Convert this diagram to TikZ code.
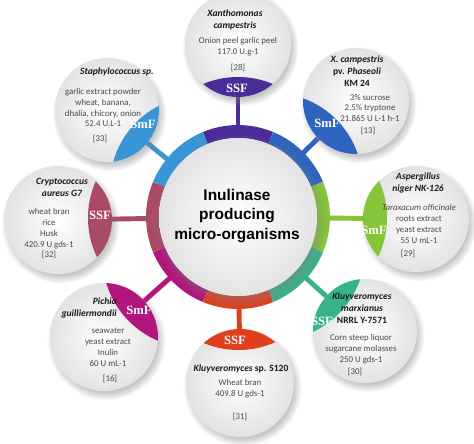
\documentclass[tikz,border=0pt]{standalone}
\usepackage{fontspec}
\setmainfont{Carlito}
\newfontfamily\hubfont{Liberation Sans}
\newfontfamily\tagfont{Liberation Serif}
\usetikzlibrary{calc,shadows}
\definecolor{cPurple}{HTML}{4B2C98}
\definecolor{cBlue}{HTML}{2F64BE}
\definecolor{cSky}{HTML}{3A95D6}
\definecolor{cRose}{HTML}{AA4B66}
\definecolor{cGreen}{HTML}{86C53A}
\definecolor{cTeal}{HTML}{36B487}
\definecolor{cRed}{HTML}{DF3F1C}
\definecolor{cMagenta}{HTML}{B0167C}
\definecolor{titlecol}{HTML}{1A1A1A}
\definecolor{bodycol}{HTML}{4A4A4A}
\tikzset{
  link/.style={line width=3.5pt},
  ring/.style={line width=9.2pt},
  disc/.style={circular drop shadow={shadow xshift=1.5pt, shadow yshift=-2.5pt, opacity=.45},
    shade, inner color=white, outer color=gray!22},
  title/.style={font=\fontsize{6.8}{8.5}\selectfont\bfseries\itshape, text=titlecol, align=center, inner sep=0pt},
  body/.style={font=\fontsize{6.3}{7.8}\selectfont, text=bodycol, align=center, inner sep=0pt},
  tag/.style={font=\tagfont\bfseries\fontsize{9}{9}\selectfont, text=white, inner sep=0pt},
  hubtext/.style={font=\hubfont\bfseries\fontsize{11}{14}\selectfont, align=center, inner sep=0pt}
}

\begin{document}
\begin{tikzpicture}[x=0.025cm, y=-0.025cm]
\useasboundingbox (0,0) rectangle (474,443);
\coordinate (hub) at (238,217);
\foreach \n/\x/\y in {s1/238/44, s2/356/101, s3/107/110, s4/58/220, s5/416/219, s6/365/331, s7/240/383, s8/104/337}
  \coordinate (\n) at (\x,\y);

% connectors
\foreach \n/\c in {s1/cPurple, s2/cBlue, s3/cSky, s4/cRose, s5/cGreen, s6/cTeal, s7/cRed, s8/cMagenta}
  \draw[link, \c] (hub) -- (\n);

% satellites
\foreach \n/\r/\a/\d/\c in {s1/53/90/20/cPurple, s2/53/135.5/26/cBlue, s3/52/39.2/22/cSky, s4/54/-1/24/cRose,
    s5/53/180.6/24/cGreen, s6/52/-138.1/21/cTeal, s7/54/-90.7/21/cRed, s8/54/-41.8/25/cMagenta} {
  \path[disc] (\n) circle (\r);
  \begin{scope}
    \clip (\n) circle (\r);
    \fill[\c] ($(\n)+(\a:{\r-\d+90})$) circle (90);
  \end{scope}
}

% ring
\foreach \a/\c in {-90/cPurple, -45/cBlue, 0/cGreen, 45/cTeal, 90/cRed, 135/cMagenta, 180/cRose, 225/cSky}
  \draw[ring, \c] ($(hub)+(\a-22.5:85.5)$) arc[start angle=\a-22.5, end angle=\a+22.5, radius=85.5];
\path[disc] (hub) circle (79);
\node[hubtext] (hubname) at (237,216) {Inulinase\\producing\\micro-organisms};

\node[tag] (tag1) at (237,88) {SSF};
\node[tag] (tag2) at (327,123) {SmF};
\node[tag] (tag3) at (143,124) {SmF};
\node[tag] (tag4) at (100,215) {SSF};
\node[tag] (tag5) at (374,230) {SmF};
\node[tag] (tag6) at (322,321) {SSF};
\node[tag] (tag7) at (235,340) {SSF};
\node[tag] (tag8) at (139,310) {SmF};

\node[title] (t1) at (235,19.5) {Xanthomonas\\campestris};
\node[body] (b1) at (238,46.5) {Onion peel garlic peel\\117.0 U.g-1};
\node[body] (r1) at (238,68) {[28]};

\node[title] (t2) at (357,71.5) {X. campestris\\{\upshape pv.} Phaseoli\\{\upshape KM 24}};
\node[body] (b2) at (370,108) {3\% sucrose\\2.5\% tryptone\\21.865 U L-1 h-1};
\node[body] (r2) at (368,131) {[13]};

\node[title] (t3) at (117,72) {Staphylococcus sp.};
\node[body] (b3) at (103,107.5) {garlic extract powder\\wheat, banana,\\dhalia, chicory, onion\\52.4 U.L-1};
\node[body] (r3) at (100,139) {[33]};

\node[title] (t4) at (62,187) {Cryptococcus\\aureus G7};
\node[body] (b4) at (49,229) {wheat bran\\rice\\Husk\\420.9 U gds-1};
\node[body] (r4) at (49,255) {[32]};

\node[title] (t5) at (418,183) {Aspergillus\\niger NK-126};
\node[body] (b5) at (419,224) {{\itshape Taraxacum officinale}\\roots extract\\yeast extract\\55 U mL-1};
\node[body] (r5) at (408,254) {[29]};

\node[title] (t6) at (362,308.5) {Kluyveromyces\\marxianus\\{\upshape NRRL Y-7571}};
\node[body] (b6) at (361,349) {Corn steep liquor\\sugarcane molasses\\250 U gds-1};
\node[body] (r6) at (355,372) {[30]};

\node[title] (t7) at (241,369) {Kluyveromyces {\upshape sp. S120}};
\node[body] (b7) at (240,389) {Wheat bran\\409.8 U gds-1};
\node[body] (r7) at (240,417) {[31]};

\node[title, align=right, anchor=east] (t8) at (117,307.5) {Pichia\\guilliermondii};
\node[body] (b8) at (108,347.5) {seawater\\yeast extract\\Inulin\\60 U mL-1};
\node[body] (r8) at (110,379) {[16]};
\end{tikzpicture}
\end{document}
